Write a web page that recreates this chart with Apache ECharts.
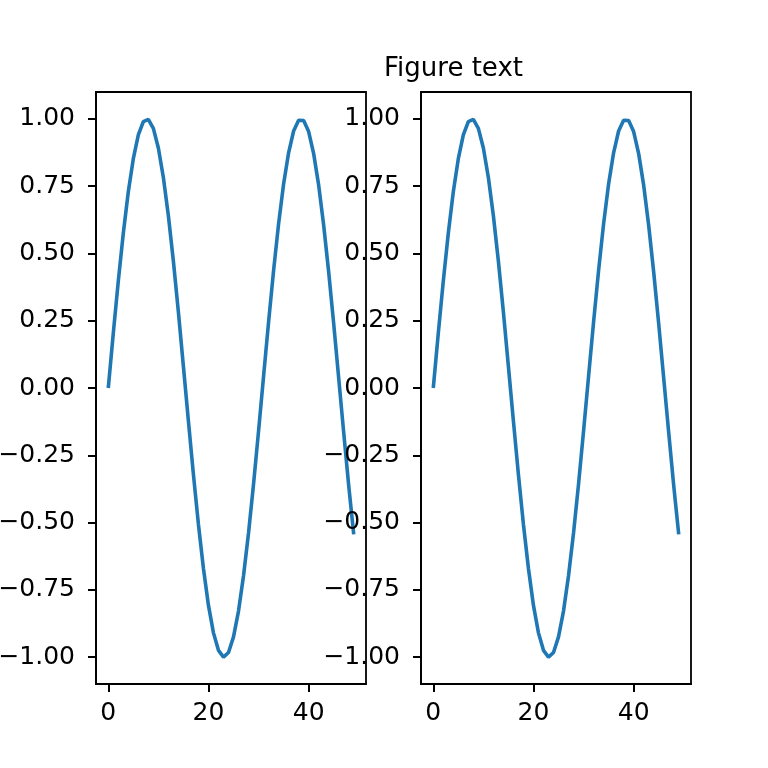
<!DOCTYPE html>
<html>
<head>
<meta charset="utf-8">
<script src="https://cdn.jsdelivr.net/npm/echarts@6/dist/echarts.min.js"></script>
<style>html,body{margin:0;padding:0;background:#fff}#c{width:768px;height:768px}</style>
</head>
<body>
<div id="c"></div>
<script>
// x index values
const xValues = [0,1,2,3,4,5,6,7,8,9,10,11,12,13,14,15,16,17,18,19,20,21,22,23,24,25,26,27,28,29,30,31,32,33,34,35,36,37,38,39,40,41,42,43,44,45,46,47,48,49];
// curve values (same in both panels)
const yValues = [0.000,0.203,0.397,0.575,0.729,0.852,0.941,0.990,0.998,0.965,0.892,0.782,0.640,0.471,0.282,0.080,-0.123,-0.322,-0.507,-0.671,-0.808,-0.910,-0.975,-1.000,-0.983,-0.925,-0.829,-0.698,-0.539,-0.357,-0.160,0.043,0.245,0.436,0.610,0.758,0.874,0.955,0.995,0.994,0.953,0.871,0.754,0.605,0.431,0.239,0.037,-0.166,-0.363,-0.544];
const xTicks = [0,20,40];
const yTicks = [-1.0,-0.75,-0.5,-0.25,0.0,0.25,0.5,0.75,1.0];
const figureText = 'Figure text';

const FONT = 'DejaVu Sans';
const FS = 25;
const fmtY = v => { const s = Math.abs(v).toFixed(2); return (v < 0 ? '\u2212' : '') + s; };

function xAxis(gi) {
  return {
    type: 'value', gridIndex: gi, min: -2.45, max: 51.45, z: 10,
    axisLine: { show: true, onZero: false, lineStyle: { color: '#000', width: 1.8 } },
    axisTick: { show: true, inside: false, length: 8, lineStyle: { color: '#000', width: 2 }, customValues: xTicks },
    axisLabel: { show: true, color: '#000', fontFamily: FONT, fontSize: FS, margin: 17, customValues: xTicks, formatter: v => String(v), hideOverlap: false },
    splitLine: { show: false }
  };
}
function yAxis(gi) {
  return {
    type: 'value', gridIndex: gi, min: -1.1, max: 1.1, z: 10,
    axisLine: { show: true, onZero: false, lineStyle: { color: '#000', width: 1.8 } },
    axisTick: { show: true, inside: false, length: 8, lineStyle: { color: '#000', width: 2 }, customValues: yTicks },
    axisLabel: { show: true, color: '#000', fontFamily: FONT, fontSize: FS, margin: 21, customValues: yTicks, formatter: fmtY, hideOverlap: false },
    splitLine: { show: false }
  };
}
const pairs = xValues.map((x, i) => [x, yValues[i]]);
const chart = echarts.init(document.getElementById('c'), null, { renderer: 'canvas' });
chart.setOption({
  animation: false,
  backgroundColor: '#fff',
  grid: [
    { left: 96, right: 402, top: 92, bottom: 84, containLabel: false, outerBoundsMode: 'none', show: true, borderColor: '#000', borderWidth: 1.8, backgroundColor: 'transparent' },
    { left: 421, right: 77, top: 92, bottom: 84, containLabel: false, outerBoundsMode: 'none', show: true, borderColor: '#000', borderWidth: 1.8, backgroundColor: 'transparent' }
  ],
  xAxis: [xAxis(0), xAxis(1)],
  yAxis: [yAxis(0), yAxis(1)],
  series: [0, 1].map(i => ({
    type: 'line', xAxisIndex: i, yAxisIndex: i, data: pairs,
    showSymbol: false, smooth: false, z: 2,
    lineStyle: { color: '#1f77b4', width: 3.6 }
  })),
  graphic: [{
    type: 'text', x: 384, y: 69, z: 100,
    style: { text: figureText, fill: '#000', font: '26px "DejaVu Sans"', textAlign: 'left', textVerticalAlign: 'middle' }
  }]
});
</script>
</body>
</html>
